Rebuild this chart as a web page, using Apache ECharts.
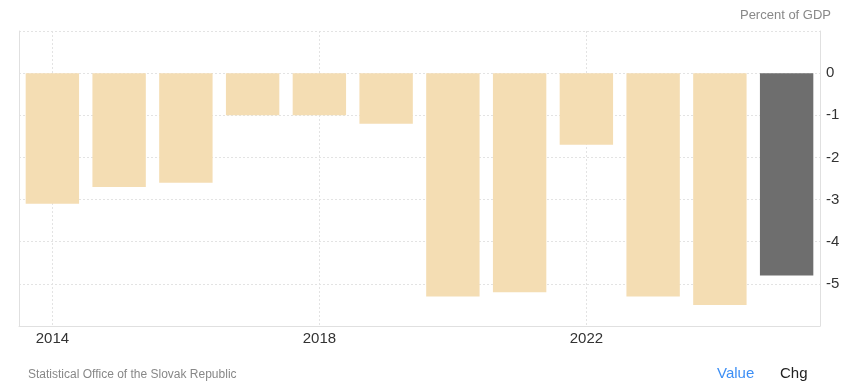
<!DOCTYPE html>
<html>
<head>
<meta charset="utf-8">
<script src="https://cdn.jsdelivr.net/npm/echarts@6/dist/echarts.min.js"></script>
<style>
html,body{margin:0;padding:0;background:#fff;}
#c{width:847px;height:387px;}
</style>
</head>
<body>
<div id="c"></div>
<script>
const categories = ['2014','2015','2016','2017','2018','2019','2020','2021','2022','2023','2024','2025'];
const values = [-3.1, -2.7, -2.6, -1.0, -1.0, -1.2, -5.3, -5.2, -1.7, -5.3, -5.5, -4.8];
const yTicks = [0, -1, -2, -3, -4, -5];
const xTickLabels = ['2014', '2018', '2022'];
const barColor = '#f4ddb3';
const lastColor = '#6e6e6e';
const font = '"Liberation Sans", Arial, sans-serif';

// half-step positions for gridlines through bar centres
const halfSteps = [];
for (let k = 0; k <= categories.length * 2; k++) halfSteps.push(k % 2 === 1 ? categories[(k - 1) / 2] : '');

const chart = echarts.init(document.getElementById('c'), null, {renderer: 'canvas'});
chart.setOption({
  animation: false,
  backgroundColor: '#fff',
  textStyle: {fontFamily: font},
  title: [
    {text: 'Percent of GDP', right: 11, top: 4, textStyle: {fontFamily: font, fontSize: 13, fontWeight: 'normal', color: '#888'}},
    {text: 'Statistical Office of the Slovak Republic', left: 23, top: 364, textStyle: {fontFamily: font, fontSize: 12, fontWeight: 'normal', color: '#888'}},
    {text: 'Value', left: 712, top: 361, textStyle: {fontFamily: font, fontSize: 15, fontWeight: 'normal', color: '#3d8ff5'}},
    {text: 'Chg', left: 775, top: 361, textStyle: {fontFamily: font, fontSize: 15, fontWeight: 'normal', color: '#222'}}
  ],
  grid: {left: 19, right: 27, top: 31, bottom: 61, containLabel: false},
  xAxis: [
    {
      type: 'category',
      data: categories,
      axisLine: {show: true, onZero: false, lineStyle: {color: '#e0e0e0', width: 1}},
      axisTick: {show: false},
      axisLabel: {show: false},
      splitLine: {show: false}
    },
    {
      type: 'category',
      position: 'bottom',
      boundaryGap: false,
      data: halfSteps,
      axisLine: {show: false, onZero: false},
      axisTick: {show: false},
      axisLabel: {
        interval: (i, v) => xTickLabels.indexOf(v) >= 0,
        color: '#333', fontSize: 15, fontFamily: font, margin: 5
      },
      splitLine: {
        show: true,
        interval: (i, v) => xTickLabels.indexOf(v) >= 0,
        lineStyle: {color: '#e3e3e3', type: [2, 2]}
      }
    }
  ],
  yAxis: [
    {
      type: 'value',
      position: 'right',
      min: -6, max: 1, interval: 1,
      axisLine: {show: true, onZero: false, lineStyle: {color: '#e0e0e0'}},
      axisTick: {show: false},
      axisLabel: {
        color: '#333', fontSize: 15, fontFamily: font, margin: 6,
        formatter: v => (yTicks.indexOf(v) >= 0 ? String(v) : '')
      },
      splitLine: {show: true, lineStyle: {color: '#e3e3e3', type: [2, 2]}}
    },
    {
      type: 'value',
      position: 'left',
      min: -6, max: 1, interval: 1,
      axisLine: {show: true, onZero: false, lineStyle: {color: '#e0e0e0'}},
      axisTick: {show: false},
      axisLabel: {show: false},
      splitLine: {show: false}
    }
  ],
  series: [{
    type: 'bar',
    xAxisIndex: 0,
    yAxisIndex: 0,
    barWidth: '80%',
    data: values.map((v, i) => ({value: v, itemStyle: {color: i === values.length - 1 ? lastColor : barColor}}))
  }]
});
</script>
</body>
</html>
